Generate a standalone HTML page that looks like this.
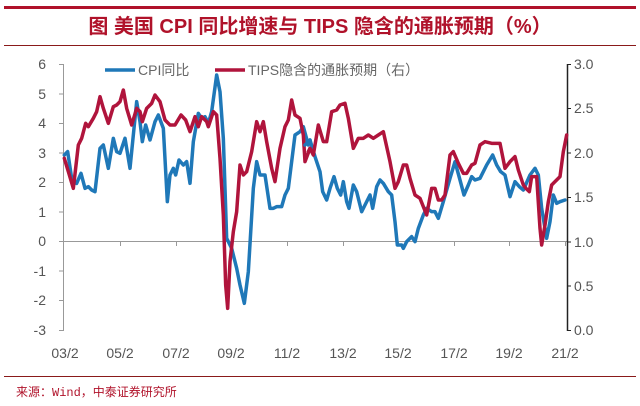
<!DOCTYPE html>
<html><head><meta charset="utf-8"><style>
html,body{margin:0;padding:0;background:#fff;}
body{width:640px;height:406px;overflow:hidden;position:relative;font-family:"Liberation Sans","Noto Sans CJK SC",sans-serif;}
</style></head><body>
<svg width="640" height="406" viewBox="0 0 640 406" xmlns="http://www.w3.org/2000/svg" style="position:absolute;left:0;top:0">
<rect x="4" y="6" width="632" height="3" fill="#b0122a"/>
<text x="320" y="33" text-anchor="middle" font-size="20" font-weight="bold" fill="#b0122a" font-family="Liberation Sans,Noto Sans CJK SC,sans-serif">图  美国 CPI 同比增速与 TIPS 隐含的通胀预期（%）</text>
<rect x="4" y="45" width="632" height="1" fill="#8a1a1a"/>
<g font-size="14" fill="#555" text-anchor="end">
<text x="46" y="69">6</text><text x="46" y="99">5</text><text x="46" y="128">4</text><text x="46" y="158">3</text><text x="46" y="187">2</text><text x="46" y="217">1</text><text x="46" y="246">0</text><text x="46" y="276">-1</text><text x="46" y="305">-2</text><text x="46" y="335">-3</text>
</g>
<g font-size="14" fill="#555">
<text x="574" y="69">3.0</text><text x="574" y="113">2.5</text><text x="574" y="158">2.0</text><text x="574" y="202">1.5</text><text x="574" y="247">1.0</text><text x="574" y="291">0.5</text><text x="574" y="335">0.0</text>
</g>
<g font-size="14" fill="#555" text-anchor="middle">
<text x="65" y="358">03/2</text><text x="120" y="358">05/2</text><text x="176" y="358">07/2</text><text x="231" y="358">09/2</text><text x="287" y="358">11/2</text><text x="343" y="358">13/2</text><text x="398" y="358">15/2</text><text x="454" y="358">17/2</text><text x="509" y="358">19/2</text><text x="565" y="358">21/2</text>
</g>
<line x1="63.5" y1="64" x2="63.5" y2="331" stroke="#999" stroke-width="1"/>
<g stroke="#999"><path d="M59 64.5h4M59 94h4M59 123.5h4M59 153h4M59 182.5h4M59 212h4M59 241.5h4M59 271h4M59 300.5h4M59 330.5h4"/></g>
<line x1="63" y1="241.5" x2="567" y2="241.5" stroke="#999"/>
<g stroke="#999"><path d="M120.5 242v4M176.5 242v4M231.5 242v4M287.5 242v4M343.5 242v4M398.5 242v4M454.5 242v4M509.5 242v4M565.5 242v4"/></g>
<line x1="567.5" y1="64" x2="567.5" y2="331" stroke="#222" stroke-width="1.5"/>
<g stroke="#222"><path d="M567 64.5h4M567 108.5h4M567 153h4M567 197.5h4M567 242h4M567 286h4M567 330.5h4"/></g>
<line x1="105" y1="70" x2="135" y2="70" stroke="#1f78b8" stroke-width="3.5"/>
<text x="138" y="75" font-size="14" fill="#666">CPI同比</text>
<line x1="215" y1="70" x2="245" y2="70" stroke="#b0143c" stroke-width="3.5"/>
<text x="248" y="75" font-size="14" fill="#666">TIPS隐含的通胀预期（右）</text>
<g fill="none" stroke-width="10.5" stroke-linejoin="round" stroke-linecap="round">
<g transform="translate(55,55) scale(0.33333)">
<polyline stroke="#1f78b8" points="28,300 38,290 50,370 65,385 78,355 90,400 100,395 110,405 120,410 135,280 145,270 160,340 175,250 185,290 195,295 210,250 225,340 245,140 255,200 262,260 272,210 285,255 300,200 310,180 325,220 337,440 345,360 355,340 362,360 372,315 385,330 395,320 405,385 415,260 430,175 440,190 450,185 460,205 470,170 485,60 495,110 505,250 515,550 530,580 545,640 555,690 568,745 580,650 595,400 605,320 615,360 630,360 645,460 655,460 665,455 680,455 690,420 700,400 720,240 735,230 745,215 760,270 765,255"/>
<polyline stroke="#b0143c" points="28,310 40,350 55,400 70,270 80,250 92,205 100,215 115,190 125,170 135,125 145,160 160,205 175,155 185,150 195,140 205,105 215,160 230,210 245,160 255,170 262,200 275,160 290,145 300,120 315,140 330,195 345,210 360,210 378,180 392,195 405,230 420,185 430,215 440,185 455,200 460,215 475,170 485,180 495,310 505,480 512,690 518,760 525,620 535,530 545,470 555,330 565,360 575,350 590,290 605,200 615,230 625,200 635,260 650,340 660,380 675,280 690,215 700,195 710,135 720,180 735,190 745,240 750,320 765,280"/>
</g>
<g transform="translate(310,55) scale(0.33333)">
<polyline stroke="#1f78b8" points="-15,270 0,255 15,305 30,350 38,410 50,435 60,400 72,365 82,400 92,420 100,380 110,440 117,460 130,390 140,410 155,470 165,450 180,420 188,460 200,395 210,375 220,385 235,410 245,420 255,500 262,570 275,570 280,580 290,560 305,545 315,560 325,520 340,480 350,460 365,470 375,470 385,490 400,440 420,370 435,320 450,375 462,420 475,390 485,365 495,375 510,370 530,330 548,300 560,330 572,350 585,360 600,425 615,380 628,395 640,405 660,360 675,340 685,360 695,460 710,550 720,500 730,420 740,445 750,440 765,435"/>
<polyline stroke="#b0143c" points="-5,290 0,280 10,300 25,210 40,260 50,260 65,170 80,165 90,150 105,145 115,190 130,280 145,250 160,250 175,240 190,250 205,240 220,230 240,320 255,400 265,380 280,330 290,330 300,370 315,420 330,430 350,480 365,400 375,400 385,435 395,435 405,420 420,300 430,290 445,325 460,355 470,355 485,330 495,325 510,270 525,260 545,265 570,265 585,340 600,320 615,305 625,345 640,390 648,400 658,410 665,365 680,365 690,520 695,570 705,510 715,440 725,390 735,380 750,365 760,290 770,240"/>
</g>
</g>
<rect x="4" y="376" width="632" height="1" fill="#8a1a1a"/>
<text x="16" y="396" font-size="12" fill="#b0122a" font-family="Liberation Mono,Noto Sans CJK SC,monospace">来源：Wind，中泰证券研究所</text>
</svg>
</body></html>
